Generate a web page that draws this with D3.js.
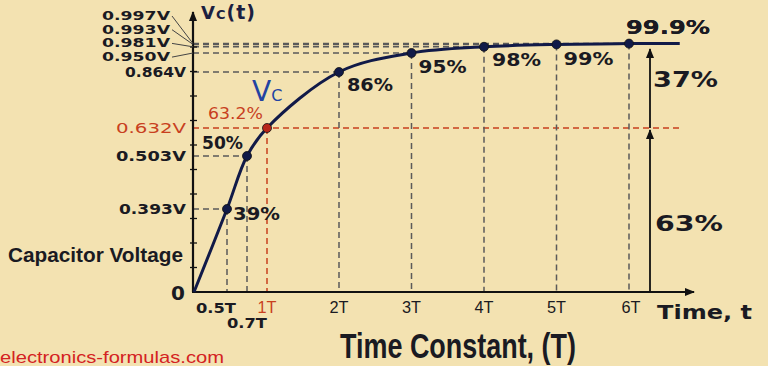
<!DOCTYPE html>
<html lang="en">
<head>
<meta charset="utf-8">
<title>Capacitor charging - time constant</title>
<script src="https://d3js.org/d3.v7.min.js"></script>
<style>
  body { margin: 0; background: #f3e2b1; }
  #chart text { font-family: "DejaVu Sans", Verdana, sans-serif; font-weight: bold; fill: #1a1a22; }
  #chart .narrow { font-family: "Liberation Sans Narrow", "Arial Narrow", "Liberation Sans", sans-serif; }
</style>
</head>
<body>
<div id="chart"></div>
<script>
// data
var times = [0.5, 0.7, 1, 2, 3, 4, 5, 6];
var volts = [0.393, 0.503, 0.632, 0.864, 0.950, 0.981, 0.993, 0.997];
var pctLabels = ["39%", "50%", "63.2%", "86%", "95%", "98%", "99%", "99.9%"];
var tickLabels = ["0.5T", "0.7T", "1T", "2T", "3T", "4T", "5T", "6T"];
var voltLabels = ["0.393V", "0.503V", "0.632V", "0.864V", "0.950V", "0.981V", "0.993V", "0.997V"];
// the drawn curve, start and end included
var curveT = [0, 0.5, 0.7, 1, 2, 3, 4, 5, 6, 6.7];
var curveV = [0, 0.393, 0.503, 0.632, 0.864, 0.950, 0.981, 0.993, 0.997, 0.998];

function drawChart() {
  var W = 768, H = 366;
  var ox = 193, oy = 292;          // origin of the axes
  var red = "#c8401e", navy = "#111a48", grey = "#5a5a5a";

  var svg = d3.select("#chart").append("svg")
      .attr("width", W).attr("height", H);

  var defs = svg.append("defs");
  defs.append("marker").attr("id", "arr")
      .attr("viewBox", "0 0 10 10").attr("refX", 9).attr("refY", 5)
      .attr("markerWidth", 10).attr("markerHeight", 10)
      .attr("markerUnits", "userSpaceOnUse")
      .attr("orient", "auto")
    .append("path").attr("d", "M0,1 L10,5 L0,9 Z").attr("fill", "#111");

  // scales (the picture is not drawn to scale, so both are piecewise)
  var x = d3.scaleLinear().domain([0, 0.5, 0.7, 1, 2, 6]).range([194, 227, 247, 267, 339, 629]);
  var y = d3.scaleLinear()
      .domain([0].concat(volts.slice(0, 5), [1]))
      .range([oy, 209, 156, 128, 72, 53, 43]);
  var tickY = d3.scaleLinear().domain([0, 1]).range([oy, 47]);

  var pts = times.map(function(t, i) { return {t: t, v: volts[i], i: i}; });

  /*
   * dashed guide lines
   */
  var guides = svg.append("g").attr("fill", "none").attr("stroke-width", 1.5)
      .attr("stroke-dasharray", "6,4");
  guides.selectAll("line.h").data(pts).enter().append("line")
      .attr("class", "h")
      .attr("x1", ox).attr("x2", function(d) { return d.t === 1 ? 680 : x(d.t); })
      .attr("y1", function(d) { return y(d.v); }).attr("y2", function(d) { return y(d.v); })
      .attr("stroke", function(d) { return d.t === 1 ? red : grey; })
      .attr("stroke-width", function(d) { return d.t === 1 ? 1.3 : 1.5; });
  guides.selectAll("line.v").data(pts).enter().append("line")
      .attr("class", "v")
      .attr("x1", function(d) { return x(d.t); }).attr("x2", function(d) { return x(d.t); })
      .attr("y1", function(d) { return y(d.v); }).attr("y2", oy)
      .attr("stroke", function(d) { return d.t === 1 ? red : grey; });

  /*
   * axes
   */
  svg.append("line").attr("x1", ox).attr("y1", oy).attr("x2", ox).attr("y2", 12)
      .attr("stroke", "#111").attr("stroke-width", 2.2).attr("marker-end", "url(#arr)");
  svg.append("line").attr("x1", ox - 1).attr("y1", oy).attr("x2", 694).attr("y2", oy)
      .attr("stroke", "#111").attr("stroke-width", 2.2).attr("marker-end", "url(#arr)");
  svg.selectAll("line.minor").data(tickY.ticks(10).slice(1)).enter().append("line")
      .attr("class", "minor")
      .attr("x1", ox - 3).attr("x2", ox + 4)
      .attr("y1", function(d) { return tickY(d); }).attr("y2", function(d) { return tickY(d); })
      .attr("stroke", "#111").attr("stroke-width", 1.3);

  // 63% / 37% arrows
  svg.append("line").attr("x1", 650).attr("y1", oy).attr("x2", 650).attr("y2", y(0.632) + 2)
      .attr("stroke", "#111").attr("stroke-width", 1.8).attr("marker-end", "url(#arr)");
  svg.append("line").attr("x1", 650).attr("y1", y(0.632)).attr("x2", 650).attr("y2", 49)
      .attr("stroke", "#111").attr("stroke-width", 1.8).attr("marker-end", "url(#arr)");

  /*
   * the curve and its points
   */
  var line = d3.line()
      .x(function(d) { return x(d[0]); })
      .y(function(d) { return y(d[1]); })
      .curve(d3.curveCatmullRom.alpha(0.5));
  svg.append("path")
      .datum(curveT.map(function(t, i) { return [t, curveV[i]]; }))
      .attr("d", line).attr("fill", "none")
      .attr("stroke", navy).attr("stroke-width", 3);
  svg.selectAll("circle").data(pts).enter().append("circle")
      .attr("cx", function(d) { return x(d.t); })
      .attr("cy", function(d) { return y(d.v); })
      .attr("r", 4.5)
      .attr("fill", function(d) { return d.t === 1 ? "#b8261a" : navy; })
      .attr("stroke", "#111").attr("stroke-width", 0.8);

  // percent labels next to the points: [dx, dy, width]
  var pctPos = [[6, 11, 47], [-45, -7, 41], [-59, -9, 55], [8, 19, 46],
                [7, 20, 48], [8, 19, 49], [7, 21, 50], [-3, -10, 84]];
  svg.selectAll("text.pct").data(pts).enter().append("text")
      .attr("class", "pct")
      .attr("x", function(d) { return x(d.t) + pctPos[d.i][0]; })
      .attr("y", function(d) { return y(d.v) + pctPos[d.i][1]; })
      .attr("textLength", function(d) { return pctPos[d.i][2]; })
      .attr("lengthAdjust", "spacingAndGlyphs")
      .style("font-size", function(d) { return d.i === 7 ? "20px" : (d.i === 2 ? "15px" : "17px"); })
      .style("font-weight", function(d) { return d.i === 2 ? "normal" : "bold"; })
      .style("fill", function(d) { return d.i === 2 ? red : "#1a1a22"; })
      .text(function(d) { return pctLabels[d.i]; });

  /*
   * y labels
   */
  var low = pts.slice(0, 5);
  var lowW = [67, 70, 70, 61, 0];
  svg.selectAll("text.vl").data(low.slice(0, 4)).enter().append("text")
      .attr("class", "vl")
      .attr("x", 186).attr("y", function(d) { return y(d.v) + 5; })
      .attr("text-anchor", "end")
      .attr("textLength", function(d) { return lowW[d.i]; })
      .attr("lengthAdjust", "spacingAndGlyphs")
      .style("font-size", "14px")
      .style("font-weight", function(d) { return d.t === 1 ? "normal" : "bold"; })
      .style("fill", function(d) { return d.t === 1 ? red : "#1a1a22"; })
      .text(function(d) { return voltLabels[d.i]; });

  // the four crowded values near the top, stacked with leader lines
  var top = pts.slice(4).reverse();
  var stack = svg.append("g");
  stack.selectAll("line").data(top).enter().append("line")
      .attr("x1", 172).attr("y1", function(d, k) { return 16 + k * 13.7; })
      .attr("x2", ox).attr("y2", function(d) { return y(d.v); })
      .attr("stroke", "#444").attr("stroke-width", 1);
  stack.selectAll("text").data(top).enter().append("text")
      .attr("x", 170).attr("y", function(d, k) { return 20 + k * 13.7; })
      .attr("text-anchor", "end")
      .attr("textLength", 68).attr("lengthAdjust", "spacingAndGlyphs")
      .style("font-size", "13px")
      .text(function(d) { return voltLabels[d.i]; });

  svg.append("text").attr("x", 185).attr("y", 300).attr("text-anchor", "end")
      .style("font-size", "20px").text("0");

  /*
   * x tick labels
   */
  var tickDx = [-11, 0, 0, 0, 0, 0, 0, 2];
  svg.selectAll("text.xt").data(pts).enter().append("text")
      .attr("class", function(d) { return d.i < 2 ? "xt" : "xt narrow"; })
      .attr("x", function(d) { return x(d.t) + tickDx[d.i]; })
      .attr("y", function(d) { return d.i === 1 ? 328 : 313; })
      .attr("text-anchor", "middle")
      .attr("textLength", function(d) { return d.i < 2 ? 40 : 19; })
      .attr("lengthAdjust", "spacingAndGlyphs")
      .style("font-size", function(d) { return d.i < 2 ? "14px" : "16px"; })
      .style("font-weight", function(d) { return d.i < 2 ? "bold" : "normal"; })
      .style("fill", function(d) { return d.t === 1 ? red : "#1a1a22"; })
      .text(function(d) { return tickLabels[d.i]; });

  /*
   * titles and annotations
   */
  var vt = svg.append("text").attr("x", 201).attr("y", 19).style("fill", "#1b2040")
      .style("letter-spacing", "1px");
  vt.append("tspan").style("font-size", "18px").text("V");
  vt.append("tspan").style("font-size", "13px").text("C");
  vt.append("tspan").style("font-size", "19px").text("(t)");

  var vc = svg.append("text").attr("x", 252).attr("y", 101).style("fill", "#2243a2");
  vc.append("tspan").style("font-size", "28px").style("font-weight", "normal").text("V");
  vc.append("tspan").style("font-size", "16px").style("font-weight", "normal").text("C");

  svg.append("text").attr("x", 626).attr("y", 34).attr("textLength", 84)
      .attr("lengthAdjust", "spacingAndGlyphs").style("font-size", "20px").text("99.9%");
  svg.append("text").attr("x", 653).attr("y", 87).attr("textLength", 65)
      .attr("lengthAdjust", "spacingAndGlyphs").style("font-size", "22px").text("37%");
  svg.append("text").attr("x", 655).attr("y", 231).attr("textLength", 68)
      .attr("lengthAdjust", "spacingAndGlyphs").style("font-size", "22px").text("63%");
  svg.append("text").attr("x", 657).attr("y", 319).attr("textLength", 95)
      .attr("lengthAdjust", "spacingAndGlyphs").style("font-size", "20px").text("Time, t");

  svg.append("text").attr("class", "narrow").attr("x", 8).attr("y", 262)
      .attr("textLength", 175).attr("lengthAdjust", "spacingAndGlyphs")
      .style("font-size", "21px").text("Capacitor Voltage");
  svg.append("text").attr("class", "narrow").attr("x", 340).attr("y", 358)
      .attr("textLength", 236).attr("lengthAdjust", "spacingAndGlyphs")
      .style("font-size", "35px").text("Time Constant, (T)");
  svg.append("text").attr("x", 0).attr("y", 363)
      .attr("textLength", 224).attr("lengthAdjust", "spacingAndGlyphs")
      .style("font-family", "'Liberation Sans', Arial, sans-serif")
      .style("font-weight", "normal").style("font-size", "17px").style("fill", "#d42222")
      .text("electronics-formulas.com");
}

drawChart();
</script>
</body>
</html>
